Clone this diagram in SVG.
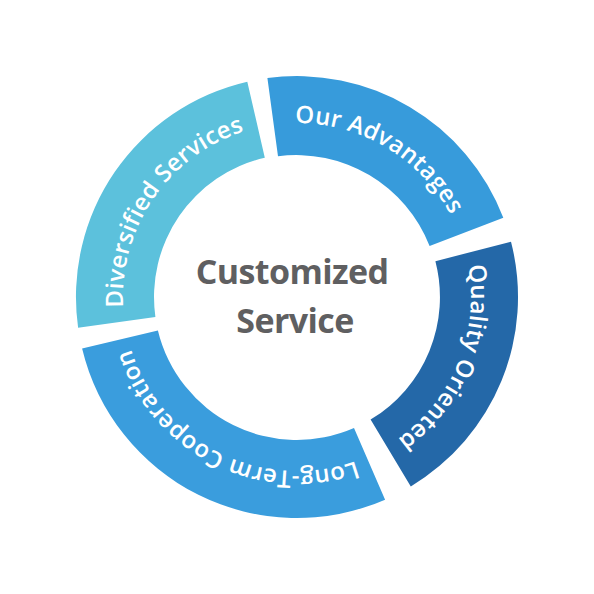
<svg xmlns="http://www.w3.org/2000/svg" xmlns:xlink="http://www.w3.org/1999/xlink" width="594" height="594" viewBox="0 0 594 594">
<style>
.lbl{font-family:"Open Sans","DejaVu Sans",sans-serif;font-weight:600;font-size:24px;fill:#ffffff;letter-spacing:0.3px;}
.ctr{font-family:"Open Sans","DejaVu Sans",sans-serif;font-weight:700;font-size:34px;fill:#5f5f61;text-anchor:middle;letter-spacing:-0.6px;}
</style>
<defs>
<path id="pOur" d="M273.7,124.6 A174,174 0 0 1 459.4,234.6"/>
<path id="pQual" d="M465.4,253.4 A174,174 0 0 1 386.6,446.2"/>
<path id="pLong" d="M366.4,456.6 A174,174 0 0 1 127.8,337.6"/>
<path id="pDiv" d="M124.7,321.2 A174,174 0 0 1 257.8,127.5"/>
</defs>
<rect width="594" height="594" fill="#ffffff"/>
<g id="connectors"/>
<g id="diversified">
<path d="M78.1,327.8 A221,221 0 0 1 247.3,81.7 L264.8,157.7 A143,143 0 0 0 155.4,316.9 Z" fill="#5cc1dc"/>
<text class="lbl"><textPath xlink:href="#pDiv" href="#pDiv" startOffset="50%" text-anchor="middle">Diversified Services</textPath></text>
</g>
<g id="advantages">
<path d="M267.4,78.0 A221,221 0 0 1 503.3,217.8 L429.6,246.1 A143,143 0 0 0 278.0,156.3 Z" fill="#379bdb"/>
<text class="lbl"><textPath xlink:href="#pOur" href="#pOur" startOffset="50%" text-anchor="middle">Our Advantages</textPath></text>
</g>
<g id="quality">
<path d="M511.0,241.7 A221,221 0 0 1 410.8,486.4 L370.6,419.6 A143,143 0 0 0 435.4,261.2 Z" fill="#2468a8"/>
<text class="lbl"><textPath xlink:href="#pQual" href="#pQual" startOffset="50%" text-anchor="middle">Quality Oriented</textPath></text>
</g>
<g id="longterm">
<path d="M385.1,499.7 A221,221 0 0 1 82.1,348.6 L157.9,330.4 A143,143 0 0 0 354.0,428.1 Z" fill="#3a9ddd"/>
<text class="lbl"><textPath xlink:href="#pLong" href="#pLong" startOffset="50%" text-anchor="middle">Long-Term Cooperation</textPath></text>
</g>
<g id="center">
<text class="ctr" x="292" y="284">Customized</text>
<text class="ctr" x="295" y="333">Service</text>
</g>
</svg>
